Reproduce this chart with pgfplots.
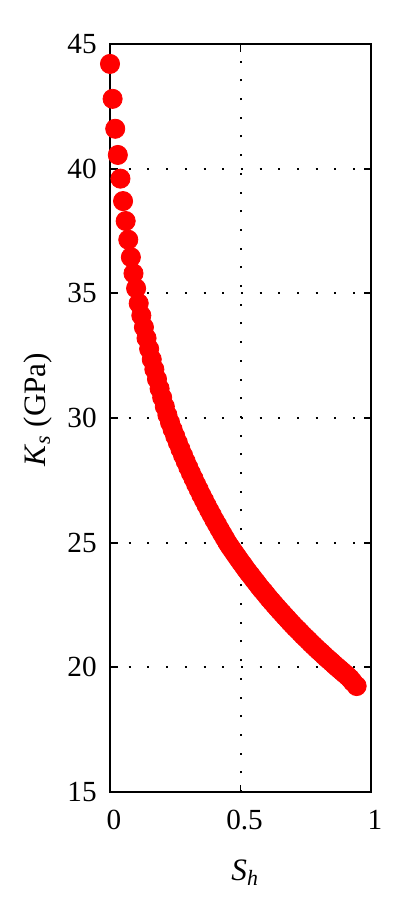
\documentclass[border=0pt]{standalone}
\usepackage{fontspec}
\setmainfont{Liberation Serif}
\usepackage{pgfplots}
\pgfplotsset{compat=1.18}
\begin{document}
\fontsize{14.3bp}{17bp}\selectfont
\begin{tikzpicture}
\path[use as bounding box] (-55bp,-60.5bp) rectangle (147bp,396bp);
\begin{axis}[
  at={(0,0)}, anchor=south west,
  scale only axis, width=130.5bp, height=374bp,
  xmin=0, xmax=1, ymin=15, ymax=45,
  xtick={0,0.5,1}, xticklabels={0,0.5,1},
  ytick={15,20,25,30,35,40,45},
  yticklabels={15,20,25,30,35,40,45},
  xtick pos=both, ytick pos=both,
  tick align=inside, major tick length=3.75bp,
  grid=major,
  major grid style={black, line width=1bp, dash pattern=on 1bp off 8.35bp},
  axis line style={black, line width=0.9bp},
  every tick/.style={black, line width=0.9bp},
  /pgf/number format/assume math mode=true,
  tick label style={font=\fontsize{14.6bp}{17bp}\selectfont},
  xticklabel style={yshift=-4.2bp, xshift=2bp},
  yticklabel style={xshift=-1.7bp},
  label style={font=\fontsize{15.6bp}{18bp}\selectfont},
  xlabel={\textit{S}\textsubscript{\textit{h}}},
  ylabel={\textit{K}\textsubscript{\textit{s}} (GPa)},
  xlabel style={at={(axis description cs:0.518,-0.108)}, anchor=center},
  ylabel style={at={(axis description cs:-0.276,0.511)}, anchor=center, rotate=0},
]
\addplot[only marks, mark=*, mark size=4.8bp, mark options={fill=red, draw=red}] coordinates {
(0.00,44.20) (0.01,42.80) (0.02,41.60) (0.03,40.55) (0.04,39.60) (0.05,38.70)
(0.06,37.90) (0.07,37.15) (0.08,36.45) (0.09,35.80) (0.10,35.20) (0.11,34.60)
(0.12,34.11) (0.13,33.64) (0.14,33.20) (0.15,32.77) (0.16,32.35) (0.17,31.95)
(0.18,31.56) (0.19,31.18) (0.20,30.82) (0.21,30.46) (0.22,30.12) (0.23,29.82)
(0.24,29.54) (0.25,29.27) (0.26,29.01) (0.27,28.75) (0.28,28.50) (0.29,28.26)
(0.30,28.02) (0.31,27.79) (0.32,27.57) (0.33,27.34) (0.34,27.13) (0.35,26.91)
(0.36,26.71) (0.37,26.50) (0.38,26.30) (0.39,26.11) (0.40,25.91) (0.41,25.73)
(0.42,25.54) (0.43,25.36) (0.44,25.18) (0.45,25.00) (0.46,24.84) (0.47,24.69)
(0.48,24.54) (0.49,24.39) (0.50,24.24) (0.51,24.10) (0.52,23.95) (0.53,23.81)
(0.54,23.68) (0.55,23.54) (0.56,23.41) (0.57,23.27) (0.58,23.14) (0.59,23.02)
(0.60,22.89) (0.61,22.76) (0.62,22.64) (0.63,22.52) (0.64,22.40) (0.65,22.28)
(0.66,22.17) (0.67,22.05) (0.68,21.94) (0.69,21.82) (0.70,21.71) (0.71,21.60)
(0.72,21.50) (0.73,21.39) (0.74,21.28) (0.75,21.18) (0.76,21.08) (0.77,20.97)
(0.78,20.87) (0.79,20.77) (0.80,20.67) (0.81,20.58) (0.82,20.48) (0.83,20.38)
(0.84,20.29) (0.85,20.20) (0.86,20.10) (0.87,20.01) (0.88,19.92) (0.89,19.83)
(0.90,19.74) (0.91,19.65) (0.92,19.55) (0.93,19.42) (0.945,19.25)
};
\end{axis}
\end{tikzpicture}
\end{document}
